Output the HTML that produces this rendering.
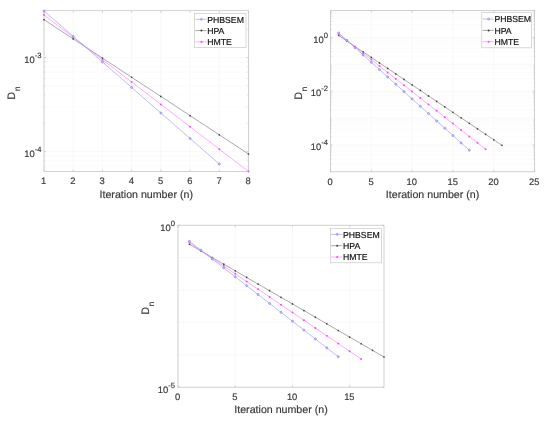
<!DOCTYPE html>
<html><head><meta charset="utf-8"><title>Figure</title>
<style>html,body{margin:0;padding:0;background:#fff;}svg{display:block}text{font-family:"Liberation Sans", Arial, sans-serif;stroke:#3a3a3a;stroke-width:0.18px;text-rendering:geometricPrecision;}text.lg{stroke:#151515;stroke-width:0.2px;}</style>
</head><body>
<svg width="550" height="425" viewBox="0 0 550 425">
<rect width="550" height="425" fill="#fff"/>
<line x1="44.00" y1="10.7" x2="44.00" y2="171.5" stroke="#f4f4f4" stroke-width="0.6"/>
<line x1="73.21" y1="10.7" x2="73.21" y2="171.5" stroke="#f4f4f4" stroke-width="0.6"/>
<line x1="102.43" y1="10.7" x2="102.43" y2="171.5" stroke="#f4f4f4" stroke-width="0.6"/>
<line x1="131.64" y1="10.7" x2="131.64" y2="171.5" stroke="#f4f4f4" stroke-width="0.6"/>
<line x1="160.86" y1="10.7" x2="160.86" y2="171.5" stroke="#f4f4f4" stroke-width="0.6"/>
<line x1="190.07" y1="10.7" x2="190.07" y2="171.5" stroke="#f4f4f4" stroke-width="0.6"/>
<line x1="219.29" y1="10.7" x2="219.29" y2="171.5" stroke="#f4f4f4" stroke-width="0.6"/>
<line x1="248.50" y1="10.7" x2="248.50" y2="171.5" stroke="#f4f4f4" stroke-width="0.6"/>
<line x1="44" y1="151.66" x2="248.5" y2="151.66" stroke="#f4f4f4" stroke-width="0.6"/>
<line x1="44" y1="57.62" x2="248.5" y2="57.62" stroke="#f4f4f4" stroke-width="0.6"/>
<line x1="44" y1="166.22" x2="248.5" y2="166.22" stroke="#f9f9f9" stroke-width="0.5"/>
<line x1="44" y1="166.22" x2="45.2" y2="166.22" stroke="#bcbcbc" stroke-width="0.5"/>
<line x1="247.3" y1="166.22" x2="248.5" y2="166.22" stroke="#bcbcbc" stroke-width="0.5"/>
<line x1="44" y1="160.77" x2="248.5" y2="160.77" stroke="#f9f9f9" stroke-width="0.5"/>
<line x1="44" y1="160.77" x2="45.2" y2="160.77" stroke="#bcbcbc" stroke-width="0.5"/>
<line x1="247.3" y1="160.77" x2="248.5" y2="160.77" stroke="#bcbcbc" stroke-width="0.5"/>
<line x1="44" y1="155.96" x2="248.5" y2="155.96" stroke="#f9f9f9" stroke-width="0.5"/>
<line x1="44" y1="155.96" x2="45.2" y2="155.96" stroke="#bcbcbc" stroke-width="0.5"/>
<line x1="247.3" y1="155.96" x2="248.5" y2="155.96" stroke="#bcbcbc" stroke-width="0.5"/>
<line x1="44" y1="123.35" x2="248.5" y2="123.35" stroke="#f9f9f9" stroke-width="0.5"/>
<line x1="44" y1="123.35" x2="45.2" y2="123.35" stroke="#bcbcbc" stroke-width="0.5"/>
<line x1="247.3" y1="123.35" x2="248.5" y2="123.35" stroke="#bcbcbc" stroke-width="0.5"/>
<line x1="44" y1="106.79" x2="248.5" y2="106.79" stroke="#f9f9f9" stroke-width="0.5"/>
<line x1="44" y1="106.79" x2="45.2" y2="106.79" stroke="#bcbcbc" stroke-width="0.5"/>
<line x1="247.3" y1="106.79" x2="248.5" y2="106.79" stroke="#bcbcbc" stroke-width="0.5"/>
<line x1="44" y1="95.04" x2="248.5" y2="95.04" stroke="#f9f9f9" stroke-width="0.5"/>
<line x1="44" y1="95.04" x2="45.2" y2="95.04" stroke="#bcbcbc" stroke-width="0.5"/>
<line x1="247.3" y1="95.04" x2="248.5" y2="95.04" stroke="#bcbcbc" stroke-width="0.5"/>
<line x1="44" y1="85.93" x2="248.5" y2="85.93" stroke="#f9f9f9" stroke-width="0.5"/>
<line x1="44" y1="85.93" x2="45.2" y2="85.93" stroke="#bcbcbc" stroke-width="0.5"/>
<line x1="247.3" y1="85.93" x2="248.5" y2="85.93" stroke="#bcbcbc" stroke-width="0.5"/>
<line x1="44" y1="78.49" x2="248.5" y2="78.49" stroke="#f9f9f9" stroke-width="0.5"/>
<line x1="44" y1="78.49" x2="45.2" y2="78.49" stroke="#bcbcbc" stroke-width="0.5"/>
<line x1="247.3" y1="78.49" x2="248.5" y2="78.49" stroke="#bcbcbc" stroke-width="0.5"/>
<line x1="44" y1="72.19" x2="248.5" y2="72.19" stroke="#f9f9f9" stroke-width="0.5"/>
<line x1="44" y1="72.19" x2="45.2" y2="72.19" stroke="#bcbcbc" stroke-width="0.5"/>
<line x1="247.3" y1="72.19" x2="248.5" y2="72.19" stroke="#bcbcbc" stroke-width="0.5"/>
<line x1="44" y1="66.74" x2="248.5" y2="66.74" stroke="#f9f9f9" stroke-width="0.5"/>
<line x1="44" y1="66.74" x2="45.2" y2="66.74" stroke="#bcbcbc" stroke-width="0.5"/>
<line x1="247.3" y1="66.74" x2="248.5" y2="66.74" stroke="#bcbcbc" stroke-width="0.5"/>
<line x1="44" y1="61.93" x2="248.5" y2="61.93" stroke="#f9f9f9" stroke-width="0.5"/>
<line x1="44" y1="61.93" x2="45.2" y2="61.93" stroke="#bcbcbc" stroke-width="0.5"/>
<line x1="247.3" y1="61.93" x2="248.5" y2="61.93" stroke="#bcbcbc" stroke-width="0.5"/>
<line x1="44" y1="29.32" x2="248.5" y2="29.32" stroke="#f9f9f9" stroke-width="0.5"/>
<line x1="44" y1="29.32" x2="45.2" y2="29.32" stroke="#bcbcbc" stroke-width="0.5"/>
<line x1="247.3" y1="29.32" x2="248.5" y2="29.32" stroke="#bcbcbc" stroke-width="0.5"/>
<line x1="44" y1="12.76" x2="248.5" y2="12.76" stroke="#f9f9f9" stroke-width="0.5"/>
<line x1="44" y1="12.76" x2="45.2" y2="12.76" stroke="#bcbcbc" stroke-width="0.5"/>
<line x1="247.3" y1="12.76" x2="248.5" y2="12.76" stroke="#bcbcbc" stroke-width="0.5"/>
<rect x="44" y="10.7" width="204.5" height="160.8" fill="none" stroke="#bcbcbc" stroke-width="0.65"/>
<line x1="44.00" y1="171.5" x2="44.00" y2="169.5" stroke="#bcbcbc" stroke-width="0.6"/>
<line x1="44.00" y1="10.7" x2="44.00" y2="12.7" stroke="#bcbcbc" stroke-width="0.6"/>
<text x="43.70" y="184.3" font-size="9.4" text-anchor="middle" fill="#3a3a3a">1</text>
<line x1="73.21" y1="171.5" x2="73.21" y2="169.5" stroke="#bcbcbc" stroke-width="0.6"/>
<line x1="73.21" y1="10.7" x2="73.21" y2="12.7" stroke="#bcbcbc" stroke-width="0.6"/>
<text x="72.91" y="184.3" font-size="9.4" text-anchor="middle" fill="#3a3a3a">2</text>
<line x1="102.43" y1="171.5" x2="102.43" y2="169.5" stroke="#bcbcbc" stroke-width="0.6"/>
<line x1="102.43" y1="10.7" x2="102.43" y2="12.7" stroke="#bcbcbc" stroke-width="0.6"/>
<text x="102.13" y="184.3" font-size="9.4" text-anchor="middle" fill="#3a3a3a">3</text>
<line x1="131.64" y1="171.5" x2="131.64" y2="169.5" stroke="#bcbcbc" stroke-width="0.6"/>
<line x1="131.64" y1="10.7" x2="131.64" y2="12.7" stroke="#bcbcbc" stroke-width="0.6"/>
<text x="131.34" y="184.3" font-size="9.4" text-anchor="middle" fill="#3a3a3a">4</text>
<line x1="160.86" y1="171.5" x2="160.86" y2="169.5" stroke="#bcbcbc" stroke-width="0.6"/>
<line x1="160.86" y1="10.7" x2="160.86" y2="12.7" stroke="#bcbcbc" stroke-width="0.6"/>
<text x="160.56" y="184.3" font-size="9.4" text-anchor="middle" fill="#3a3a3a">5</text>
<line x1="190.07" y1="171.5" x2="190.07" y2="169.5" stroke="#bcbcbc" stroke-width="0.6"/>
<line x1="190.07" y1="10.7" x2="190.07" y2="12.7" stroke="#bcbcbc" stroke-width="0.6"/>
<text x="189.77" y="184.3" font-size="9.4" text-anchor="middle" fill="#3a3a3a">6</text>
<line x1="219.29" y1="171.5" x2="219.29" y2="169.5" stroke="#bcbcbc" stroke-width="0.6"/>
<line x1="219.29" y1="10.7" x2="219.29" y2="12.7" stroke="#bcbcbc" stroke-width="0.6"/>
<text x="218.99" y="184.3" font-size="9.4" text-anchor="middle" fill="#3a3a3a">7</text>
<line x1="248.50" y1="171.5" x2="248.50" y2="169.5" stroke="#bcbcbc" stroke-width="0.6"/>
<line x1="248.50" y1="10.7" x2="248.50" y2="12.7" stroke="#bcbcbc" stroke-width="0.6"/>
<text x="248.20" y="184.3" font-size="9.4" text-anchor="middle" fill="#3a3a3a">8</text>
<line x1="44" y1="57.62" x2="46" y2="57.62" stroke="#bcbcbc" stroke-width="0.6"/>
<line x1="248.5" y1="57.62" x2="246.5" y2="57.62" stroke="#bcbcbc" stroke-width="0.6"/>
<text x="41.5" y="62.77" font-size="9.4" text-anchor="end" fill="#3a3a3a">10<tspan dy="-5.1" font-size="7.6">-3</tspan></text>
<line x1="44" y1="151.66" x2="46" y2="151.66" stroke="#bcbcbc" stroke-width="0.6"/>
<line x1="248.5" y1="151.66" x2="246.5" y2="151.66" stroke="#bcbcbc" stroke-width="0.6"/>
<text x="41.5" y="156.81" font-size="9.4" text-anchor="end" fill="#3a3a3a">10<tspan dy="-5.1" font-size="7.6">-4</tspan></text>
<text x="146.25" y="197.5" font-size="10.65" text-anchor="middle" fill="#3a3a3a">Iteration number (n)</text>
<text transform="translate(14.5,93.10) rotate(-90)" font-size="10.8" text-anchor="middle" fill="#3a3a3a">D<tspan dy="5" dx="0.8" font-size="8.2">n</tspan></text>
<clipPath id="c44"><rect x="42" y="8.7" width="208.5" height="164.8"/></clipPath>
<g clip-path="url(#c44)">
<polyline fill="none" stroke="#747474" stroke-width="0.62" points="44.00,19.70 73.21,38.89 102.43,58.07 131.64,77.26 160.86,96.44 190.07,115.63 219.29,134.81 248.50,154.00"/>
<circle cx="44.00" cy="19.70" r="0.85" fill="#404040"/>
<circle cx="73.21" cy="38.89" r="0.85" fill="#404040"/>
<circle cx="102.43" cy="58.07" r="0.85" fill="#404040"/>
<circle cx="131.64" cy="77.26" r="0.85" fill="#404040"/>
<circle cx="160.86" cy="96.44" r="0.85" fill="#404040"/>
<circle cx="190.07" cy="115.63" r="0.85" fill="#404040"/>
<circle cx="219.29" cy="134.81" r="0.85" fill="#404040"/>
<circle cx="248.50" cy="154.00" r="0.85" fill="#404040"/>
<polyline fill="none" stroke="#ff78ff" stroke-width="0.62" points="44.00,14.90 73.21,37.27 102.43,59.64 131.64,82.01 160.86,104.39 190.07,126.76 219.29,149.13 248.50,171.50"/>
<circle cx="44.00" cy="14.90" r="1.0" fill="#ff48ff"/>
<circle cx="73.21" cy="37.27" r="1.0" fill="#ff48ff"/>
<circle cx="102.43" cy="59.64" r="1.0" fill="#ff48ff"/>
<circle cx="131.64" cy="82.01" r="1.0" fill="#ff48ff"/>
<circle cx="160.86" cy="104.39" r="1.0" fill="#ff48ff"/>
<circle cx="190.07" cy="126.76" r="1.0" fill="#ff48ff"/>
<circle cx="219.29" cy="149.13" r="1.0" fill="#ff48ff"/>
<circle cx="248.50" cy="171.50" r="1.0" fill="#ff48ff"/>
<polyline fill="none" stroke="#9393ff" stroke-width="0.62" points="44.00,10.90 73.21,36.42 102.43,61.93 131.64,87.45 160.86,112.97 190.07,138.48 219.29,164.00"/>
<circle cx="44.00" cy="10.90" r="1.0" fill="#c4c4ff" stroke="#8585f5" stroke-width="0.7"/>
<circle cx="73.21" cy="36.42" r="1.0" fill="#c4c4ff" stroke="#8585f5" stroke-width="0.7"/>
<circle cx="102.43" cy="61.93" r="1.0" fill="#c4c4ff" stroke="#8585f5" stroke-width="0.7"/>
<circle cx="131.64" cy="87.45" r="1.0" fill="#c4c4ff" stroke="#8585f5" stroke-width="0.7"/>
<circle cx="160.86" cy="112.97" r="1.0" fill="#c4c4ff" stroke="#8585f5" stroke-width="0.7"/>
<circle cx="190.07" cy="138.48" r="1.0" fill="#c4c4ff" stroke="#8585f5" stroke-width="0.7"/>
<circle cx="219.29" cy="164.00" r="1.0" fill="#c4c4ff" stroke="#8585f5" stroke-width="0.7"/>
</g>
<rect x="194.6" y="13.3" width="51.400000000000006" height="34.3" fill="#fff" stroke="#c4c4c4" stroke-width="0.65"/>
<line x1="195.4" y1="19.30" x2="206.6" y2="19.30" stroke="#9393ff" stroke-width="0.62"/>
<circle cx="201.4" cy="19.30" r="1.0" fill="none" stroke="#8585f5" stroke-width="0.7"/>
<text class="lg" x="207.2" y="22.55" font-size="8.7" fill="#151515">PHBSEM</text>
<line x1="195.4" y1="30.60" x2="206.6" y2="30.60" stroke="#747474" stroke-width="0.62"/>
<circle cx="201.4" cy="30.60" r="1.0" fill="#404040"/>
<text class="lg" x="207.2" y="33.85" font-size="8.7" fill="#151515">HPA</text>
<line x1="195.4" y1="41.90" x2="206.6" y2="41.90" stroke="#ff78ff" stroke-width="0.62"/>
<circle cx="201.4" cy="41.90" r="1.0" fill="#ff48ff"/>
<text class="lg" x="207.2" y="45.15" font-size="8.7" fill="#151515">HMTE</text>
<line x1="330.50" y1="10.6" x2="330.50" y2="171.8" stroke="#f4f4f4" stroke-width="0.6"/>
<line x1="371.32" y1="10.6" x2="371.32" y2="171.8" stroke="#f4f4f4" stroke-width="0.6"/>
<line x1="412.14" y1="10.6" x2="412.14" y2="171.8" stroke="#f4f4f4" stroke-width="0.6"/>
<line x1="452.96" y1="10.6" x2="452.96" y2="171.8" stroke="#f4f4f4" stroke-width="0.6"/>
<line x1="493.78" y1="10.6" x2="493.78" y2="171.8" stroke="#f4f4f4" stroke-width="0.6"/>
<line x1="534.60" y1="10.6" x2="534.60" y2="171.8" stroke="#f4f4f4" stroke-width="0.6"/>
<line x1="330.5" y1="171.80" x2="534.6" y2="171.80" stroke="#f4f4f4" stroke-width="0.6"/>
<line x1="330.5" y1="144.93" x2="534.6" y2="144.93" stroke="#f4f4f4" stroke-width="0.6"/>
<line x1="330.5" y1="118.07" x2="534.6" y2="118.07" stroke="#f4f4f4" stroke-width="0.6"/>
<line x1="330.5" y1="91.20" x2="534.6" y2="91.20" stroke="#f4f4f4" stroke-width="0.6"/>
<line x1="330.5" y1="64.33" x2="534.6" y2="64.33" stroke="#f4f4f4" stroke-width="0.6"/>
<line x1="330.5" y1="37.47" x2="534.6" y2="37.47" stroke="#f4f4f4" stroke-width="0.6"/>
<line x1="330.5" y1="10.60" x2="534.6" y2="10.60" stroke="#f4f4f4" stroke-width="0.6"/>
<line x1="330.5" y1="163.71" x2="534.6" y2="163.71" stroke="#f9f9f9" stroke-width="0.5"/>
<line x1="330.5" y1="163.71" x2="331.7" y2="163.71" stroke="#bcbcbc" stroke-width="0.5"/>
<line x1="533.4" y1="163.71" x2="534.6" y2="163.71" stroke="#bcbcbc" stroke-width="0.5"/>
<line x1="330.5" y1="158.98" x2="534.6" y2="158.98" stroke="#f9f9f9" stroke-width="0.5"/>
<line x1="330.5" y1="158.98" x2="331.7" y2="158.98" stroke="#bcbcbc" stroke-width="0.5"/>
<line x1="533.4" y1="158.98" x2="534.6" y2="158.98" stroke="#bcbcbc" stroke-width="0.5"/>
<line x1="330.5" y1="155.62" x2="534.6" y2="155.62" stroke="#f9f9f9" stroke-width="0.5"/>
<line x1="330.5" y1="155.62" x2="331.7" y2="155.62" stroke="#bcbcbc" stroke-width="0.5"/>
<line x1="533.4" y1="155.62" x2="534.6" y2="155.62" stroke="#bcbcbc" stroke-width="0.5"/>
<line x1="330.5" y1="153.02" x2="534.6" y2="153.02" stroke="#f9f9f9" stroke-width="0.5"/>
<line x1="330.5" y1="153.02" x2="331.7" y2="153.02" stroke="#bcbcbc" stroke-width="0.5"/>
<line x1="533.4" y1="153.02" x2="534.6" y2="153.02" stroke="#bcbcbc" stroke-width="0.5"/>
<line x1="330.5" y1="150.89" x2="534.6" y2="150.89" stroke="#f9f9f9" stroke-width="0.5"/>
<line x1="330.5" y1="150.89" x2="331.7" y2="150.89" stroke="#bcbcbc" stroke-width="0.5"/>
<line x1="533.4" y1="150.89" x2="534.6" y2="150.89" stroke="#bcbcbc" stroke-width="0.5"/>
<line x1="330.5" y1="149.10" x2="534.6" y2="149.10" stroke="#f9f9f9" stroke-width="0.5"/>
<line x1="330.5" y1="149.10" x2="331.7" y2="149.10" stroke="#bcbcbc" stroke-width="0.5"/>
<line x1="533.4" y1="149.10" x2="534.6" y2="149.10" stroke="#bcbcbc" stroke-width="0.5"/>
<line x1="330.5" y1="147.54" x2="534.6" y2="147.54" stroke="#f9f9f9" stroke-width="0.5"/>
<line x1="330.5" y1="147.54" x2="331.7" y2="147.54" stroke="#bcbcbc" stroke-width="0.5"/>
<line x1="533.4" y1="147.54" x2="534.6" y2="147.54" stroke="#bcbcbc" stroke-width="0.5"/>
<line x1="330.5" y1="146.16" x2="534.6" y2="146.16" stroke="#f9f9f9" stroke-width="0.5"/>
<line x1="330.5" y1="146.16" x2="331.7" y2="146.16" stroke="#bcbcbc" stroke-width="0.5"/>
<line x1="533.4" y1="146.16" x2="534.6" y2="146.16" stroke="#bcbcbc" stroke-width="0.5"/>
<line x1="330.5" y1="136.85" x2="534.6" y2="136.85" stroke="#f9f9f9" stroke-width="0.5"/>
<line x1="330.5" y1="136.85" x2="331.7" y2="136.85" stroke="#bcbcbc" stroke-width="0.5"/>
<line x1="533.4" y1="136.85" x2="534.6" y2="136.85" stroke="#bcbcbc" stroke-width="0.5"/>
<line x1="330.5" y1="132.11" x2="534.6" y2="132.11" stroke="#f9f9f9" stroke-width="0.5"/>
<line x1="330.5" y1="132.11" x2="331.7" y2="132.11" stroke="#bcbcbc" stroke-width="0.5"/>
<line x1="533.4" y1="132.11" x2="534.6" y2="132.11" stroke="#bcbcbc" stroke-width="0.5"/>
<line x1="330.5" y1="128.76" x2="534.6" y2="128.76" stroke="#f9f9f9" stroke-width="0.5"/>
<line x1="330.5" y1="128.76" x2="331.7" y2="128.76" stroke="#bcbcbc" stroke-width="0.5"/>
<line x1="533.4" y1="128.76" x2="534.6" y2="128.76" stroke="#bcbcbc" stroke-width="0.5"/>
<line x1="330.5" y1="126.15" x2="534.6" y2="126.15" stroke="#f9f9f9" stroke-width="0.5"/>
<line x1="330.5" y1="126.15" x2="331.7" y2="126.15" stroke="#bcbcbc" stroke-width="0.5"/>
<line x1="533.4" y1="126.15" x2="534.6" y2="126.15" stroke="#bcbcbc" stroke-width="0.5"/>
<line x1="330.5" y1="124.03" x2="534.6" y2="124.03" stroke="#f9f9f9" stroke-width="0.5"/>
<line x1="330.5" y1="124.03" x2="331.7" y2="124.03" stroke="#bcbcbc" stroke-width="0.5"/>
<line x1="533.4" y1="124.03" x2="534.6" y2="124.03" stroke="#bcbcbc" stroke-width="0.5"/>
<line x1="330.5" y1="122.23" x2="534.6" y2="122.23" stroke="#f9f9f9" stroke-width="0.5"/>
<line x1="330.5" y1="122.23" x2="331.7" y2="122.23" stroke="#bcbcbc" stroke-width="0.5"/>
<line x1="533.4" y1="122.23" x2="534.6" y2="122.23" stroke="#bcbcbc" stroke-width="0.5"/>
<line x1="330.5" y1="120.67" x2="534.6" y2="120.67" stroke="#f9f9f9" stroke-width="0.5"/>
<line x1="330.5" y1="120.67" x2="331.7" y2="120.67" stroke="#bcbcbc" stroke-width="0.5"/>
<line x1="533.4" y1="120.67" x2="534.6" y2="120.67" stroke="#bcbcbc" stroke-width="0.5"/>
<line x1="330.5" y1="119.30" x2="534.6" y2="119.30" stroke="#f9f9f9" stroke-width="0.5"/>
<line x1="330.5" y1="119.30" x2="331.7" y2="119.30" stroke="#bcbcbc" stroke-width="0.5"/>
<line x1="533.4" y1="119.30" x2="534.6" y2="119.30" stroke="#bcbcbc" stroke-width="0.5"/>
<line x1="330.5" y1="109.98" x2="534.6" y2="109.98" stroke="#f9f9f9" stroke-width="0.5"/>
<line x1="330.5" y1="109.98" x2="331.7" y2="109.98" stroke="#bcbcbc" stroke-width="0.5"/>
<line x1="533.4" y1="109.98" x2="534.6" y2="109.98" stroke="#bcbcbc" stroke-width="0.5"/>
<line x1="330.5" y1="105.25" x2="534.6" y2="105.25" stroke="#f9f9f9" stroke-width="0.5"/>
<line x1="330.5" y1="105.25" x2="331.7" y2="105.25" stroke="#bcbcbc" stroke-width="0.5"/>
<line x1="533.4" y1="105.25" x2="534.6" y2="105.25" stroke="#bcbcbc" stroke-width="0.5"/>
<line x1="330.5" y1="101.89" x2="534.6" y2="101.89" stroke="#f9f9f9" stroke-width="0.5"/>
<line x1="330.5" y1="101.89" x2="331.7" y2="101.89" stroke="#bcbcbc" stroke-width="0.5"/>
<line x1="533.4" y1="101.89" x2="534.6" y2="101.89" stroke="#bcbcbc" stroke-width="0.5"/>
<line x1="330.5" y1="99.29" x2="534.6" y2="99.29" stroke="#f9f9f9" stroke-width="0.5"/>
<line x1="330.5" y1="99.29" x2="331.7" y2="99.29" stroke="#bcbcbc" stroke-width="0.5"/>
<line x1="533.4" y1="99.29" x2="534.6" y2="99.29" stroke="#bcbcbc" stroke-width="0.5"/>
<line x1="330.5" y1="97.16" x2="534.6" y2="97.16" stroke="#f9f9f9" stroke-width="0.5"/>
<line x1="330.5" y1="97.16" x2="331.7" y2="97.16" stroke="#bcbcbc" stroke-width="0.5"/>
<line x1="533.4" y1="97.16" x2="534.6" y2="97.16" stroke="#bcbcbc" stroke-width="0.5"/>
<line x1="330.5" y1="95.36" x2="534.6" y2="95.36" stroke="#f9f9f9" stroke-width="0.5"/>
<line x1="330.5" y1="95.36" x2="331.7" y2="95.36" stroke="#bcbcbc" stroke-width="0.5"/>
<line x1="533.4" y1="95.36" x2="534.6" y2="95.36" stroke="#bcbcbc" stroke-width="0.5"/>
<line x1="330.5" y1="93.80" x2="534.6" y2="93.80" stroke="#f9f9f9" stroke-width="0.5"/>
<line x1="330.5" y1="93.80" x2="331.7" y2="93.80" stroke="#bcbcbc" stroke-width="0.5"/>
<line x1="533.4" y1="93.80" x2="534.6" y2="93.80" stroke="#bcbcbc" stroke-width="0.5"/>
<line x1="330.5" y1="92.43" x2="534.6" y2="92.43" stroke="#f9f9f9" stroke-width="0.5"/>
<line x1="330.5" y1="92.43" x2="331.7" y2="92.43" stroke="#bcbcbc" stroke-width="0.5"/>
<line x1="533.4" y1="92.43" x2="534.6" y2="92.43" stroke="#bcbcbc" stroke-width="0.5"/>
<line x1="330.5" y1="83.11" x2="534.6" y2="83.11" stroke="#f9f9f9" stroke-width="0.5"/>
<line x1="330.5" y1="83.11" x2="331.7" y2="83.11" stroke="#bcbcbc" stroke-width="0.5"/>
<line x1="533.4" y1="83.11" x2="534.6" y2="83.11" stroke="#bcbcbc" stroke-width="0.5"/>
<line x1="330.5" y1="78.38" x2="534.6" y2="78.38" stroke="#f9f9f9" stroke-width="0.5"/>
<line x1="330.5" y1="78.38" x2="331.7" y2="78.38" stroke="#bcbcbc" stroke-width="0.5"/>
<line x1="533.4" y1="78.38" x2="534.6" y2="78.38" stroke="#bcbcbc" stroke-width="0.5"/>
<line x1="330.5" y1="75.02" x2="534.6" y2="75.02" stroke="#f9f9f9" stroke-width="0.5"/>
<line x1="330.5" y1="75.02" x2="331.7" y2="75.02" stroke="#bcbcbc" stroke-width="0.5"/>
<line x1="533.4" y1="75.02" x2="534.6" y2="75.02" stroke="#bcbcbc" stroke-width="0.5"/>
<line x1="330.5" y1="72.42" x2="534.6" y2="72.42" stroke="#f9f9f9" stroke-width="0.5"/>
<line x1="330.5" y1="72.42" x2="331.7" y2="72.42" stroke="#bcbcbc" stroke-width="0.5"/>
<line x1="533.4" y1="72.42" x2="534.6" y2="72.42" stroke="#bcbcbc" stroke-width="0.5"/>
<line x1="330.5" y1="70.29" x2="534.6" y2="70.29" stroke="#f9f9f9" stroke-width="0.5"/>
<line x1="330.5" y1="70.29" x2="331.7" y2="70.29" stroke="#bcbcbc" stroke-width="0.5"/>
<line x1="533.4" y1="70.29" x2="534.6" y2="70.29" stroke="#bcbcbc" stroke-width="0.5"/>
<line x1="330.5" y1="68.50" x2="534.6" y2="68.50" stroke="#f9f9f9" stroke-width="0.5"/>
<line x1="330.5" y1="68.50" x2="331.7" y2="68.50" stroke="#bcbcbc" stroke-width="0.5"/>
<line x1="533.4" y1="68.50" x2="534.6" y2="68.50" stroke="#bcbcbc" stroke-width="0.5"/>
<line x1="330.5" y1="66.94" x2="534.6" y2="66.94" stroke="#f9f9f9" stroke-width="0.5"/>
<line x1="330.5" y1="66.94" x2="331.7" y2="66.94" stroke="#bcbcbc" stroke-width="0.5"/>
<line x1="533.4" y1="66.94" x2="534.6" y2="66.94" stroke="#bcbcbc" stroke-width="0.5"/>
<line x1="330.5" y1="65.56" x2="534.6" y2="65.56" stroke="#f9f9f9" stroke-width="0.5"/>
<line x1="330.5" y1="65.56" x2="331.7" y2="65.56" stroke="#bcbcbc" stroke-width="0.5"/>
<line x1="533.4" y1="65.56" x2="534.6" y2="65.56" stroke="#bcbcbc" stroke-width="0.5"/>
<line x1="330.5" y1="56.25" x2="534.6" y2="56.25" stroke="#f9f9f9" stroke-width="0.5"/>
<line x1="330.5" y1="56.25" x2="331.7" y2="56.25" stroke="#bcbcbc" stroke-width="0.5"/>
<line x1="533.4" y1="56.25" x2="534.6" y2="56.25" stroke="#bcbcbc" stroke-width="0.5"/>
<line x1="330.5" y1="51.51" x2="534.6" y2="51.51" stroke="#f9f9f9" stroke-width="0.5"/>
<line x1="330.5" y1="51.51" x2="331.7" y2="51.51" stroke="#bcbcbc" stroke-width="0.5"/>
<line x1="533.4" y1="51.51" x2="534.6" y2="51.51" stroke="#bcbcbc" stroke-width="0.5"/>
<line x1="330.5" y1="48.16" x2="534.6" y2="48.16" stroke="#f9f9f9" stroke-width="0.5"/>
<line x1="330.5" y1="48.16" x2="331.7" y2="48.16" stroke="#bcbcbc" stroke-width="0.5"/>
<line x1="533.4" y1="48.16" x2="534.6" y2="48.16" stroke="#bcbcbc" stroke-width="0.5"/>
<line x1="330.5" y1="45.55" x2="534.6" y2="45.55" stroke="#f9f9f9" stroke-width="0.5"/>
<line x1="330.5" y1="45.55" x2="331.7" y2="45.55" stroke="#bcbcbc" stroke-width="0.5"/>
<line x1="533.4" y1="45.55" x2="534.6" y2="45.55" stroke="#bcbcbc" stroke-width="0.5"/>
<line x1="330.5" y1="43.43" x2="534.6" y2="43.43" stroke="#f9f9f9" stroke-width="0.5"/>
<line x1="330.5" y1="43.43" x2="331.7" y2="43.43" stroke="#bcbcbc" stroke-width="0.5"/>
<line x1="533.4" y1="43.43" x2="534.6" y2="43.43" stroke="#bcbcbc" stroke-width="0.5"/>
<line x1="330.5" y1="41.63" x2="534.6" y2="41.63" stroke="#f9f9f9" stroke-width="0.5"/>
<line x1="330.5" y1="41.63" x2="331.7" y2="41.63" stroke="#bcbcbc" stroke-width="0.5"/>
<line x1="533.4" y1="41.63" x2="534.6" y2="41.63" stroke="#bcbcbc" stroke-width="0.5"/>
<line x1="330.5" y1="40.07" x2="534.6" y2="40.07" stroke="#f9f9f9" stroke-width="0.5"/>
<line x1="330.5" y1="40.07" x2="331.7" y2="40.07" stroke="#bcbcbc" stroke-width="0.5"/>
<line x1="533.4" y1="40.07" x2="534.6" y2="40.07" stroke="#bcbcbc" stroke-width="0.5"/>
<line x1="330.5" y1="38.70" x2="534.6" y2="38.70" stroke="#f9f9f9" stroke-width="0.5"/>
<line x1="330.5" y1="38.70" x2="331.7" y2="38.70" stroke="#bcbcbc" stroke-width="0.5"/>
<line x1="533.4" y1="38.70" x2="534.6" y2="38.70" stroke="#bcbcbc" stroke-width="0.5"/>
<line x1="330.5" y1="29.38" x2="534.6" y2="29.38" stroke="#f9f9f9" stroke-width="0.5"/>
<line x1="330.5" y1="29.38" x2="331.7" y2="29.38" stroke="#bcbcbc" stroke-width="0.5"/>
<line x1="533.4" y1="29.38" x2="534.6" y2="29.38" stroke="#bcbcbc" stroke-width="0.5"/>
<line x1="330.5" y1="24.65" x2="534.6" y2="24.65" stroke="#f9f9f9" stroke-width="0.5"/>
<line x1="330.5" y1="24.65" x2="331.7" y2="24.65" stroke="#bcbcbc" stroke-width="0.5"/>
<line x1="533.4" y1="24.65" x2="534.6" y2="24.65" stroke="#bcbcbc" stroke-width="0.5"/>
<line x1="330.5" y1="21.29" x2="534.6" y2="21.29" stroke="#f9f9f9" stroke-width="0.5"/>
<line x1="330.5" y1="21.29" x2="331.7" y2="21.29" stroke="#bcbcbc" stroke-width="0.5"/>
<line x1="533.4" y1="21.29" x2="534.6" y2="21.29" stroke="#bcbcbc" stroke-width="0.5"/>
<line x1="330.5" y1="18.69" x2="534.6" y2="18.69" stroke="#f9f9f9" stroke-width="0.5"/>
<line x1="330.5" y1="18.69" x2="331.7" y2="18.69" stroke="#bcbcbc" stroke-width="0.5"/>
<line x1="533.4" y1="18.69" x2="534.6" y2="18.69" stroke="#bcbcbc" stroke-width="0.5"/>
<line x1="330.5" y1="16.56" x2="534.6" y2="16.56" stroke="#f9f9f9" stroke-width="0.5"/>
<line x1="330.5" y1="16.56" x2="331.7" y2="16.56" stroke="#bcbcbc" stroke-width="0.5"/>
<line x1="533.4" y1="16.56" x2="534.6" y2="16.56" stroke="#bcbcbc" stroke-width="0.5"/>
<line x1="330.5" y1="14.76" x2="534.6" y2="14.76" stroke="#f9f9f9" stroke-width="0.5"/>
<line x1="330.5" y1="14.76" x2="331.7" y2="14.76" stroke="#bcbcbc" stroke-width="0.5"/>
<line x1="533.4" y1="14.76" x2="534.6" y2="14.76" stroke="#bcbcbc" stroke-width="0.5"/>
<line x1="330.5" y1="13.20" x2="534.6" y2="13.20" stroke="#f9f9f9" stroke-width="0.5"/>
<line x1="330.5" y1="13.20" x2="331.7" y2="13.20" stroke="#bcbcbc" stroke-width="0.5"/>
<line x1="533.4" y1="13.20" x2="534.6" y2="13.20" stroke="#bcbcbc" stroke-width="0.5"/>
<line x1="330.5" y1="11.83" x2="534.6" y2="11.83" stroke="#f9f9f9" stroke-width="0.5"/>
<line x1="330.5" y1="11.83" x2="331.7" y2="11.83" stroke="#bcbcbc" stroke-width="0.5"/>
<line x1="533.4" y1="11.83" x2="534.6" y2="11.83" stroke="#bcbcbc" stroke-width="0.5"/>
<rect x="330.5" y="10.6" width="204.10000000000002" height="161.20000000000002" fill="none" stroke="#bcbcbc" stroke-width="0.65"/>
<line x1="330.50" y1="171.8" x2="330.50" y2="169.8" stroke="#bcbcbc" stroke-width="0.6"/>
<line x1="330.50" y1="10.6" x2="330.50" y2="12.6" stroke="#bcbcbc" stroke-width="0.6"/>
<text x="330.20" y="184.60000000000002" font-size="9.4" text-anchor="middle" fill="#3a3a3a">0</text>
<line x1="371.32" y1="171.8" x2="371.32" y2="169.8" stroke="#bcbcbc" stroke-width="0.6"/>
<line x1="371.32" y1="10.6" x2="371.32" y2="12.6" stroke="#bcbcbc" stroke-width="0.6"/>
<text x="371.02" y="184.60000000000002" font-size="9.4" text-anchor="middle" fill="#3a3a3a">5</text>
<line x1="412.14" y1="171.8" x2="412.14" y2="169.8" stroke="#bcbcbc" stroke-width="0.6"/>
<line x1="412.14" y1="10.6" x2="412.14" y2="12.6" stroke="#bcbcbc" stroke-width="0.6"/>
<text x="411.84" y="184.60000000000002" font-size="9.4" text-anchor="middle" fill="#3a3a3a">10</text>
<line x1="452.96" y1="171.8" x2="452.96" y2="169.8" stroke="#bcbcbc" stroke-width="0.6"/>
<line x1="452.96" y1="10.6" x2="452.96" y2="12.6" stroke="#bcbcbc" stroke-width="0.6"/>
<text x="452.66" y="184.60000000000002" font-size="9.4" text-anchor="middle" fill="#3a3a3a">15</text>
<line x1="493.78" y1="171.8" x2="493.78" y2="169.8" stroke="#bcbcbc" stroke-width="0.6"/>
<line x1="493.78" y1="10.6" x2="493.78" y2="12.6" stroke="#bcbcbc" stroke-width="0.6"/>
<text x="493.48" y="184.60000000000002" font-size="9.4" text-anchor="middle" fill="#3a3a3a">20</text>
<line x1="534.60" y1="171.8" x2="534.60" y2="169.8" stroke="#bcbcbc" stroke-width="0.6"/>
<line x1="534.60" y1="10.6" x2="534.60" y2="12.6" stroke="#bcbcbc" stroke-width="0.6"/>
<text x="534.30" y="184.60000000000002" font-size="9.4" text-anchor="middle" fill="#3a3a3a">25</text>
<line x1="330.5" y1="37.47" x2="332.5" y2="37.47" stroke="#bcbcbc" stroke-width="0.6"/>
<line x1="534.6" y1="37.47" x2="532.6" y2="37.47" stroke="#bcbcbc" stroke-width="0.6"/>
<text x="328.0" y="42.62" font-size="9.4" text-anchor="end" fill="#3a3a3a">10<tspan dy="-5.1" font-size="7.6">0</tspan></text>
<line x1="330.5" y1="91.20" x2="332.5" y2="91.20" stroke="#bcbcbc" stroke-width="0.6"/>
<line x1="534.6" y1="91.20" x2="532.6" y2="91.20" stroke="#bcbcbc" stroke-width="0.6"/>
<text x="328.0" y="96.35" font-size="9.4" text-anchor="end" fill="#3a3a3a">10<tspan dy="-5.1" font-size="7.6">-2</tspan></text>
<line x1="330.5" y1="144.93" x2="332.5" y2="144.93" stroke="#bcbcbc" stroke-width="0.6"/>
<line x1="534.6" y1="144.93" x2="532.6" y2="144.93" stroke="#bcbcbc" stroke-width="0.6"/>
<text x="328.0" y="150.08" font-size="9.4" text-anchor="end" fill="#3a3a3a">10<tspan dy="-5.1" font-size="7.6">-4</tspan></text>
<text x="432.55" y="197.8" font-size="10.65" text-anchor="middle" fill="#3a3a3a">Iteration number (n)</text>
<text transform="translate(301.8,93.20) rotate(-90)" font-size="10.8" text-anchor="middle" fill="#3a3a3a">D<tspan dy="5" dx="0.8" font-size="8.2">n</tspan></text>
<clipPath id="c330"><rect x="328.5" y="8.6" width="208.10000000000002" height="165.20000000000002"/></clipPath>
<g clip-path="url(#c330)">
<polyline fill="none" stroke="#747474" stroke-width="0.62" points="338.66,35.50 346.83,40.99 354.99,46.48 363.16,51.97 371.32,57.46 379.48,62.95 387.65,68.44 395.81,73.93 403.98,79.42 412.14,84.91 420.30,90.40 428.47,95.89 436.63,101.38 444.80,106.87 452.96,112.36 461.12,117.85 469.29,123.34 477.45,128.83 485.62,134.32 493.78,139.81 501.94,145.30"/>
<circle cx="338.66" cy="35.50" r="0.85" fill="#404040"/>
<circle cx="346.83" cy="40.99" r="0.85" fill="#404040"/>
<circle cx="354.99" cy="46.48" r="0.85" fill="#404040"/>
<circle cx="363.16" cy="51.97" r="0.85" fill="#404040"/>
<circle cx="371.32" cy="57.46" r="0.85" fill="#404040"/>
<circle cx="379.48" cy="62.95" r="0.85" fill="#404040"/>
<circle cx="387.65" cy="68.44" r="0.85" fill="#404040"/>
<circle cx="395.81" cy="73.93" r="0.85" fill="#404040"/>
<circle cx="403.98" cy="79.42" r="0.85" fill="#404040"/>
<circle cx="412.14" cy="84.91" r="0.85" fill="#404040"/>
<circle cx="420.30" cy="90.40" r="0.85" fill="#404040"/>
<circle cx="428.47" cy="95.89" r="0.85" fill="#404040"/>
<circle cx="436.63" cy="101.38" r="0.85" fill="#404040"/>
<circle cx="444.80" cy="106.87" r="0.85" fill="#404040"/>
<circle cx="452.96" cy="112.36" r="0.85" fill="#404040"/>
<circle cx="461.12" cy="117.85" r="0.85" fill="#404040"/>
<circle cx="469.29" cy="123.34" r="0.85" fill="#404040"/>
<circle cx="477.45" cy="128.83" r="0.85" fill="#404040"/>
<circle cx="485.62" cy="134.32" r="0.85" fill="#404040"/>
<circle cx="493.78" cy="139.81" r="0.85" fill="#404040"/>
<circle cx="501.94" cy="145.30" r="0.85" fill="#404040"/>
<polyline fill="none" stroke="#ff78ff" stroke-width="0.62" points="338.66,34.00 346.83,40.40 354.99,46.80 363.16,53.20 371.32,59.60 379.48,66.00 387.65,72.40 395.81,78.80 403.98,85.20 412.14,91.60 420.30,98.00 428.47,104.40 436.63,110.80 444.80,117.20 452.96,123.60 461.12,130.00 469.29,136.40 477.45,142.80 485.62,149.20"/>
<circle cx="338.66" cy="34.00" r="1.0" fill="#ff48ff"/>
<circle cx="346.83" cy="40.40" r="1.0" fill="#ff48ff"/>
<circle cx="354.99" cy="46.80" r="1.0" fill="#ff48ff"/>
<circle cx="363.16" cy="53.20" r="1.0" fill="#ff48ff"/>
<circle cx="371.32" cy="59.60" r="1.0" fill="#ff48ff"/>
<circle cx="379.48" cy="66.00" r="1.0" fill="#ff48ff"/>
<circle cx="387.65" cy="72.40" r="1.0" fill="#ff48ff"/>
<circle cx="395.81" cy="78.80" r="1.0" fill="#ff48ff"/>
<circle cx="403.98" cy="85.20" r="1.0" fill="#ff48ff"/>
<circle cx="412.14" cy="91.60" r="1.0" fill="#ff48ff"/>
<circle cx="420.30" cy="98.00" r="1.0" fill="#ff48ff"/>
<circle cx="428.47" cy="104.40" r="1.0" fill="#ff48ff"/>
<circle cx="436.63" cy="110.80" r="1.0" fill="#ff48ff"/>
<circle cx="444.80" cy="117.20" r="1.0" fill="#ff48ff"/>
<circle cx="452.96" cy="123.60" r="1.0" fill="#ff48ff"/>
<circle cx="461.12" cy="130.00" r="1.0" fill="#ff48ff"/>
<circle cx="469.29" cy="136.40" r="1.0" fill="#ff48ff"/>
<circle cx="477.45" cy="142.80" r="1.0" fill="#ff48ff"/>
<circle cx="485.62" cy="149.20" r="1.0" fill="#ff48ff"/>
<polyline fill="none" stroke="#9393ff" stroke-width="0.62" points="338.66,33.00 346.83,40.33 354.99,47.65 363.16,54.97 371.32,62.30 379.48,69.62 387.65,76.95 395.81,84.27 403.98,91.60 412.14,98.92 420.30,106.25 428.47,113.57 436.63,120.90 444.80,128.22 452.96,135.55 461.12,142.88 469.29,150.20"/>
<circle cx="338.66" cy="33.00" r="1.0" fill="#c4c4ff" stroke="#8585f5" stroke-width="0.7"/>
<circle cx="346.83" cy="40.33" r="1.0" fill="#c4c4ff" stroke="#8585f5" stroke-width="0.7"/>
<circle cx="354.99" cy="47.65" r="1.0" fill="#c4c4ff" stroke="#8585f5" stroke-width="0.7"/>
<circle cx="363.16" cy="54.97" r="1.0" fill="#c4c4ff" stroke="#8585f5" stroke-width="0.7"/>
<circle cx="371.32" cy="62.30" r="1.0" fill="#c4c4ff" stroke="#8585f5" stroke-width="0.7"/>
<circle cx="379.48" cy="69.62" r="1.0" fill="#c4c4ff" stroke="#8585f5" stroke-width="0.7"/>
<circle cx="387.65" cy="76.95" r="1.0" fill="#c4c4ff" stroke="#8585f5" stroke-width="0.7"/>
<circle cx="395.81" cy="84.27" r="1.0" fill="#c4c4ff" stroke="#8585f5" stroke-width="0.7"/>
<circle cx="403.98" cy="91.60" r="1.0" fill="#c4c4ff" stroke="#8585f5" stroke-width="0.7"/>
<circle cx="412.14" cy="98.92" r="1.0" fill="#c4c4ff" stroke="#8585f5" stroke-width="0.7"/>
<circle cx="420.30" cy="106.25" r="1.0" fill="#c4c4ff" stroke="#8585f5" stroke-width="0.7"/>
<circle cx="428.47" cy="113.57" r="1.0" fill="#c4c4ff" stroke="#8585f5" stroke-width="0.7"/>
<circle cx="436.63" cy="120.90" r="1.0" fill="#c4c4ff" stroke="#8585f5" stroke-width="0.7"/>
<circle cx="444.80" cy="128.22" r="1.0" fill="#c4c4ff" stroke="#8585f5" stroke-width="0.7"/>
<circle cx="452.96" cy="135.55" r="1.0" fill="#c4c4ff" stroke="#8585f5" stroke-width="0.7"/>
<circle cx="461.12" cy="142.88" r="1.0" fill="#c4c4ff" stroke="#8585f5" stroke-width="0.7"/>
<circle cx="469.29" cy="150.20" r="1.0" fill="#c4c4ff" stroke="#8585f5" stroke-width="0.7"/>
</g>
<rect x="481.8" y="12.7" width="49.80000000000001" height="35.099999999999994" fill="#fff" stroke="#c4c4c4" stroke-width="0.65"/>
<line x1="482.6" y1="19.10" x2="493.8" y2="19.10" stroke="#9393ff" stroke-width="0.62"/>
<circle cx="488.6" cy="19.10" r="1.0" fill="none" stroke="#8585f5" stroke-width="0.7"/>
<text class="lg" x="494.40000000000003" y="22.35" font-size="8.7" fill="#151515">PHBSEM</text>
<line x1="482.6" y1="30.40" x2="493.8" y2="30.40" stroke="#747474" stroke-width="0.62"/>
<circle cx="488.6" cy="30.40" r="1.0" fill="#404040"/>
<text class="lg" x="494.40000000000003" y="33.65" font-size="8.7" fill="#151515">HPA</text>
<line x1="482.6" y1="41.70" x2="493.8" y2="41.70" stroke="#ff78ff" stroke-width="0.62"/>
<circle cx="488.6" cy="41.70" r="1.0" fill="#ff48ff"/>
<text class="lg" x="494.40000000000003" y="44.95" font-size="8.7" fill="#151515">HMTE</text>
<line x1="178.00" y1="225.2" x2="178.00" y2="387.2" stroke="#f4f4f4" stroke-width="0.6"/>
<line x1="235.22" y1="225.2" x2="235.22" y2="387.2" stroke="#f4f4f4" stroke-width="0.6"/>
<line x1="292.44" y1="225.2" x2="292.44" y2="387.2" stroke="#f4f4f4" stroke-width="0.6"/>
<line x1="349.67" y1="225.2" x2="349.67" y2="387.2" stroke="#f4f4f4" stroke-width="0.6"/>
<line x1="178" y1="387.20" x2="384" y2="387.20" stroke="#f4f4f4" stroke-width="0.6"/>
<line x1="178" y1="354.80" x2="384" y2="354.80" stroke="#f4f4f4" stroke-width="0.6"/>
<line x1="178" y1="322.40" x2="384" y2="322.40" stroke="#f4f4f4" stroke-width="0.6"/>
<line x1="178" y1="290.00" x2="384" y2="290.00" stroke="#f4f4f4" stroke-width="0.6"/>
<line x1="178" y1="257.60" x2="384" y2="257.60" stroke="#f4f4f4" stroke-width="0.6"/>
<line x1="178" y1="225.20" x2="384" y2="225.20" stroke="#f4f4f4" stroke-width="0.6"/>
<rect x="178" y="225.2" width="206" height="162.0" fill="none" stroke="#bcbcbc" stroke-width="0.65"/>
<line x1="178.00" y1="387.2" x2="178.00" y2="385.2" stroke="#bcbcbc" stroke-width="0.6"/>
<line x1="178.00" y1="225.2" x2="178.00" y2="227.2" stroke="#bcbcbc" stroke-width="0.6"/>
<text x="177.70" y="400.0" font-size="9.4" text-anchor="middle" fill="#3a3a3a">0</text>
<line x1="235.22" y1="387.2" x2="235.22" y2="385.2" stroke="#bcbcbc" stroke-width="0.6"/>
<line x1="235.22" y1="225.2" x2="235.22" y2="227.2" stroke="#bcbcbc" stroke-width="0.6"/>
<text x="234.92" y="400.0" font-size="9.4" text-anchor="middle" fill="#3a3a3a">5</text>
<line x1="292.44" y1="387.2" x2="292.44" y2="385.2" stroke="#bcbcbc" stroke-width="0.6"/>
<line x1="292.44" y1="225.2" x2="292.44" y2="227.2" stroke="#bcbcbc" stroke-width="0.6"/>
<text x="292.14" y="400.0" font-size="9.4" text-anchor="middle" fill="#3a3a3a">10</text>
<line x1="349.67" y1="387.2" x2="349.67" y2="385.2" stroke="#bcbcbc" stroke-width="0.6"/>
<line x1="349.67" y1="225.2" x2="349.67" y2="227.2" stroke="#bcbcbc" stroke-width="0.6"/>
<text x="349.37" y="400.0" font-size="9.4" text-anchor="middle" fill="#3a3a3a">15</text>
<line x1="178" y1="225.20" x2="180" y2="225.20" stroke="#bcbcbc" stroke-width="0.6"/>
<line x1="384" y1="225.20" x2="382" y2="225.20" stroke="#bcbcbc" stroke-width="0.6"/>
<text x="175.0" y="231.15" font-size="9.4" text-anchor="end" fill="#3a3a3a">10<tspan dy="-5.1" font-size="7.6">0</tspan></text>
<line x1="178" y1="387.20" x2="180" y2="387.20" stroke="#bcbcbc" stroke-width="0.6"/>
<line x1="384" y1="387.20" x2="382" y2="387.20" stroke="#bcbcbc" stroke-width="0.6"/>
<text x="175.0" y="393.15" font-size="9.4" text-anchor="end" fill="#3a3a3a">10<tspan dy="-5.1" font-size="7.6">-5</tspan></text>
<text x="281.00" y="413" font-size="10.65" text-anchor="middle" fill="#3a3a3a">Iteration number (n)</text>
<text transform="translate(149.1,308.20) rotate(-90)" font-size="10.8" text-anchor="middle" fill="#3a3a3a">D<tspan dy="5" dx="0.8" font-size="8.2">n</tspan></text>
<clipPath id="c178"><rect x="176" y="223.2" width="210" height="166.0"/></clipPath>
<g clip-path="url(#c178)">
<polyline fill="none" stroke="#747474" stroke-width="0.62" points="189.44,244.30 200.89,250.93 212.33,257.56 223.78,264.19 235.22,270.82 246.67,277.45 258.11,284.08 269.56,290.71 281.00,297.34 292.44,303.96 303.89,310.59 315.33,317.22 326.78,323.85 338.22,330.48 349.67,337.11 361.11,343.74 372.56,350.37 384.00,357.00"/>
<circle cx="189.44" cy="244.30" r="0.85" fill="#404040"/>
<circle cx="200.89" cy="250.93" r="0.85" fill="#404040"/>
<circle cx="212.33" cy="257.56" r="0.85" fill="#404040"/>
<circle cx="223.78" cy="264.19" r="0.85" fill="#404040"/>
<circle cx="235.22" cy="270.82" r="0.85" fill="#404040"/>
<circle cx="246.67" cy="277.45" r="0.85" fill="#404040"/>
<circle cx="258.11" cy="284.08" r="0.85" fill="#404040"/>
<circle cx="269.56" cy="290.71" r="0.85" fill="#404040"/>
<circle cx="281.00" cy="297.34" r="0.85" fill="#404040"/>
<circle cx="292.44" cy="303.96" r="0.85" fill="#404040"/>
<circle cx="303.89" cy="310.59" r="0.85" fill="#404040"/>
<circle cx="315.33" cy="317.22" r="0.85" fill="#404040"/>
<circle cx="326.78" cy="323.85" r="0.85" fill="#404040"/>
<circle cx="338.22" cy="330.48" r="0.85" fill="#404040"/>
<circle cx="349.67" cy="337.11" r="0.85" fill="#404040"/>
<circle cx="361.11" cy="343.74" r="0.85" fill="#404040"/>
<circle cx="372.56" cy="350.37" r="0.85" fill="#404040"/>
<circle cx="384.00" cy="357.00" r="0.85" fill="#404040"/>
<polyline fill="none" stroke="#ff78ff" stroke-width="0.62" points="189.44,242.80 200.89,250.55 212.33,258.29 223.78,266.04 235.22,273.79 246.67,281.53 258.11,289.28 269.56,297.03 281.00,304.77 292.44,312.52 303.89,320.27 315.33,328.01 326.78,335.76 338.22,343.51 349.67,351.25 361.11,359.00"/>
<circle cx="189.44" cy="242.80" r="1.0" fill="#ff48ff"/>
<circle cx="200.89" cy="250.55" r="1.0" fill="#ff48ff"/>
<circle cx="212.33" cy="258.29" r="1.0" fill="#ff48ff"/>
<circle cx="223.78" cy="266.04" r="1.0" fill="#ff48ff"/>
<circle cx="235.22" cy="273.79" r="1.0" fill="#ff48ff"/>
<circle cx="246.67" cy="281.53" r="1.0" fill="#ff48ff"/>
<circle cx="258.11" cy="289.28" r="1.0" fill="#ff48ff"/>
<circle cx="269.56" cy="297.03" r="1.0" fill="#ff48ff"/>
<circle cx="281.00" cy="304.77" r="1.0" fill="#ff48ff"/>
<circle cx="292.44" cy="312.52" r="1.0" fill="#ff48ff"/>
<circle cx="303.89" cy="320.27" r="1.0" fill="#ff48ff"/>
<circle cx="315.33" cy="328.01" r="1.0" fill="#ff48ff"/>
<circle cx="326.78" cy="335.76" r="1.0" fill="#ff48ff"/>
<circle cx="338.22" cy="343.51" r="1.0" fill="#ff48ff"/>
<circle cx="349.67" cy="351.25" r="1.0" fill="#ff48ff"/>
<circle cx="361.11" cy="359.00" r="1.0" fill="#ff48ff"/>
<polyline fill="none" stroke="#9393ff" stroke-width="0.62" points="189.44,241.30 200.89,250.18 212.33,259.05 223.78,267.93 235.22,276.81 246.67,285.68 258.11,294.56 269.56,303.44 281.00,312.32 292.44,321.19 303.89,330.07 315.33,338.95 326.78,347.82 338.22,356.70"/>
<circle cx="189.44" cy="241.30" r="1.0" fill="#c4c4ff" stroke="#8585f5" stroke-width="0.7"/>
<circle cx="200.89" cy="250.18" r="1.0" fill="#c4c4ff" stroke="#8585f5" stroke-width="0.7"/>
<circle cx="212.33" cy="259.05" r="1.0" fill="#c4c4ff" stroke="#8585f5" stroke-width="0.7"/>
<circle cx="223.78" cy="267.93" r="1.0" fill="#c4c4ff" stroke="#8585f5" stroke-width="0.7"/>
<circle cx="235.22" cy="276.81" r="1.0" fill="#c4c4ff" stroke="#8585f5" stroke-width="0.7"/>
<circle cx="246.67" cy="285.68" r="1.0" fill="#c4c4ff" stroke="#8585f5" stroke-width="0.7"/>
<circle cx="258.11" cy="294.56" r="1.0" fill="#c4c4ff" stroke="#8585f5" stroke-width="0.7"/>
<circle cx="269.56" cy="303.44" r="1.0" fill="#c4c4ff" stroke="#8585f5" stroke-width="0.7"/>
<circle cx="281.00" cy="312.32" r="1.0" fill="#c4c4ff" stroke="#8585f5" stroke-width="0.7"/>
<circle cx="292.44" cy="321.19" r="1.0" fill="#c4c4ff" stroke="#8585f5" stroke-width="0.7"/>
<circle cx="303.89" cy="330.07" r="1.0" fill="#c4c4ff" stroke="#8585f5" stroke-width="0.7"/>
<circle cx="315.33" cy="338.95" r="1.0" fill="#c4c4ff" stroke="#8585f5" stroke-width="0.7"/>
<circle cx="326.78" cy="347.82" r="1.0" fill="#c4c4ff" stroke="#8585f5" stroke-width="0.7"/>
<circle cx="338.22" cy="356.70" r="1.0" fill="#c4c4ff" stroke="#8585f5" stroke-width="0.7"/>
</g>
<rect x="330.4" y="228.3" width="51.10000000000002" height="34.5" fill="#fff" stroke="#c4c4c4" stroke-width="0.65"/>
<line x1="331.2" y1="234.40" x2="342.4" y2="234.40" stroke="#9393ff" stroke-width="0.62"/>
<circle cx="337.2" cy="234.40" r="1.0" fill="none" stroke="#8585f5" stroke-width="0.7"/>
<text class="lg" x="343.0" y="237.65" font-size="8.7" fill="#151515">PHBSEM</text>
<line x1="331.2" y1="245.70" x2="342.4" y2="245.70" stroke="#747474" stroke-width="0.62"/>
<circle cx="337.2" cy="245.70" r="1.0" fill="#404040"/>
<text class="lg" x="343.0" y="248.95" font-size="8.7" fill="#151515">HPA</text>
<line x1="331.2" y1="257.00" x2="342.4" y2="257.00" stroke="#ff78ff" stroke-width="0.62"/>
<circle cx="337.2" cy="257.00" r="1.0" fill="#ff48ff"/>
<text class="lg" x="343.0" y="260.25" font-size="8.7" fill="#151515">HMTE</text>
</svg>
</body></html>
